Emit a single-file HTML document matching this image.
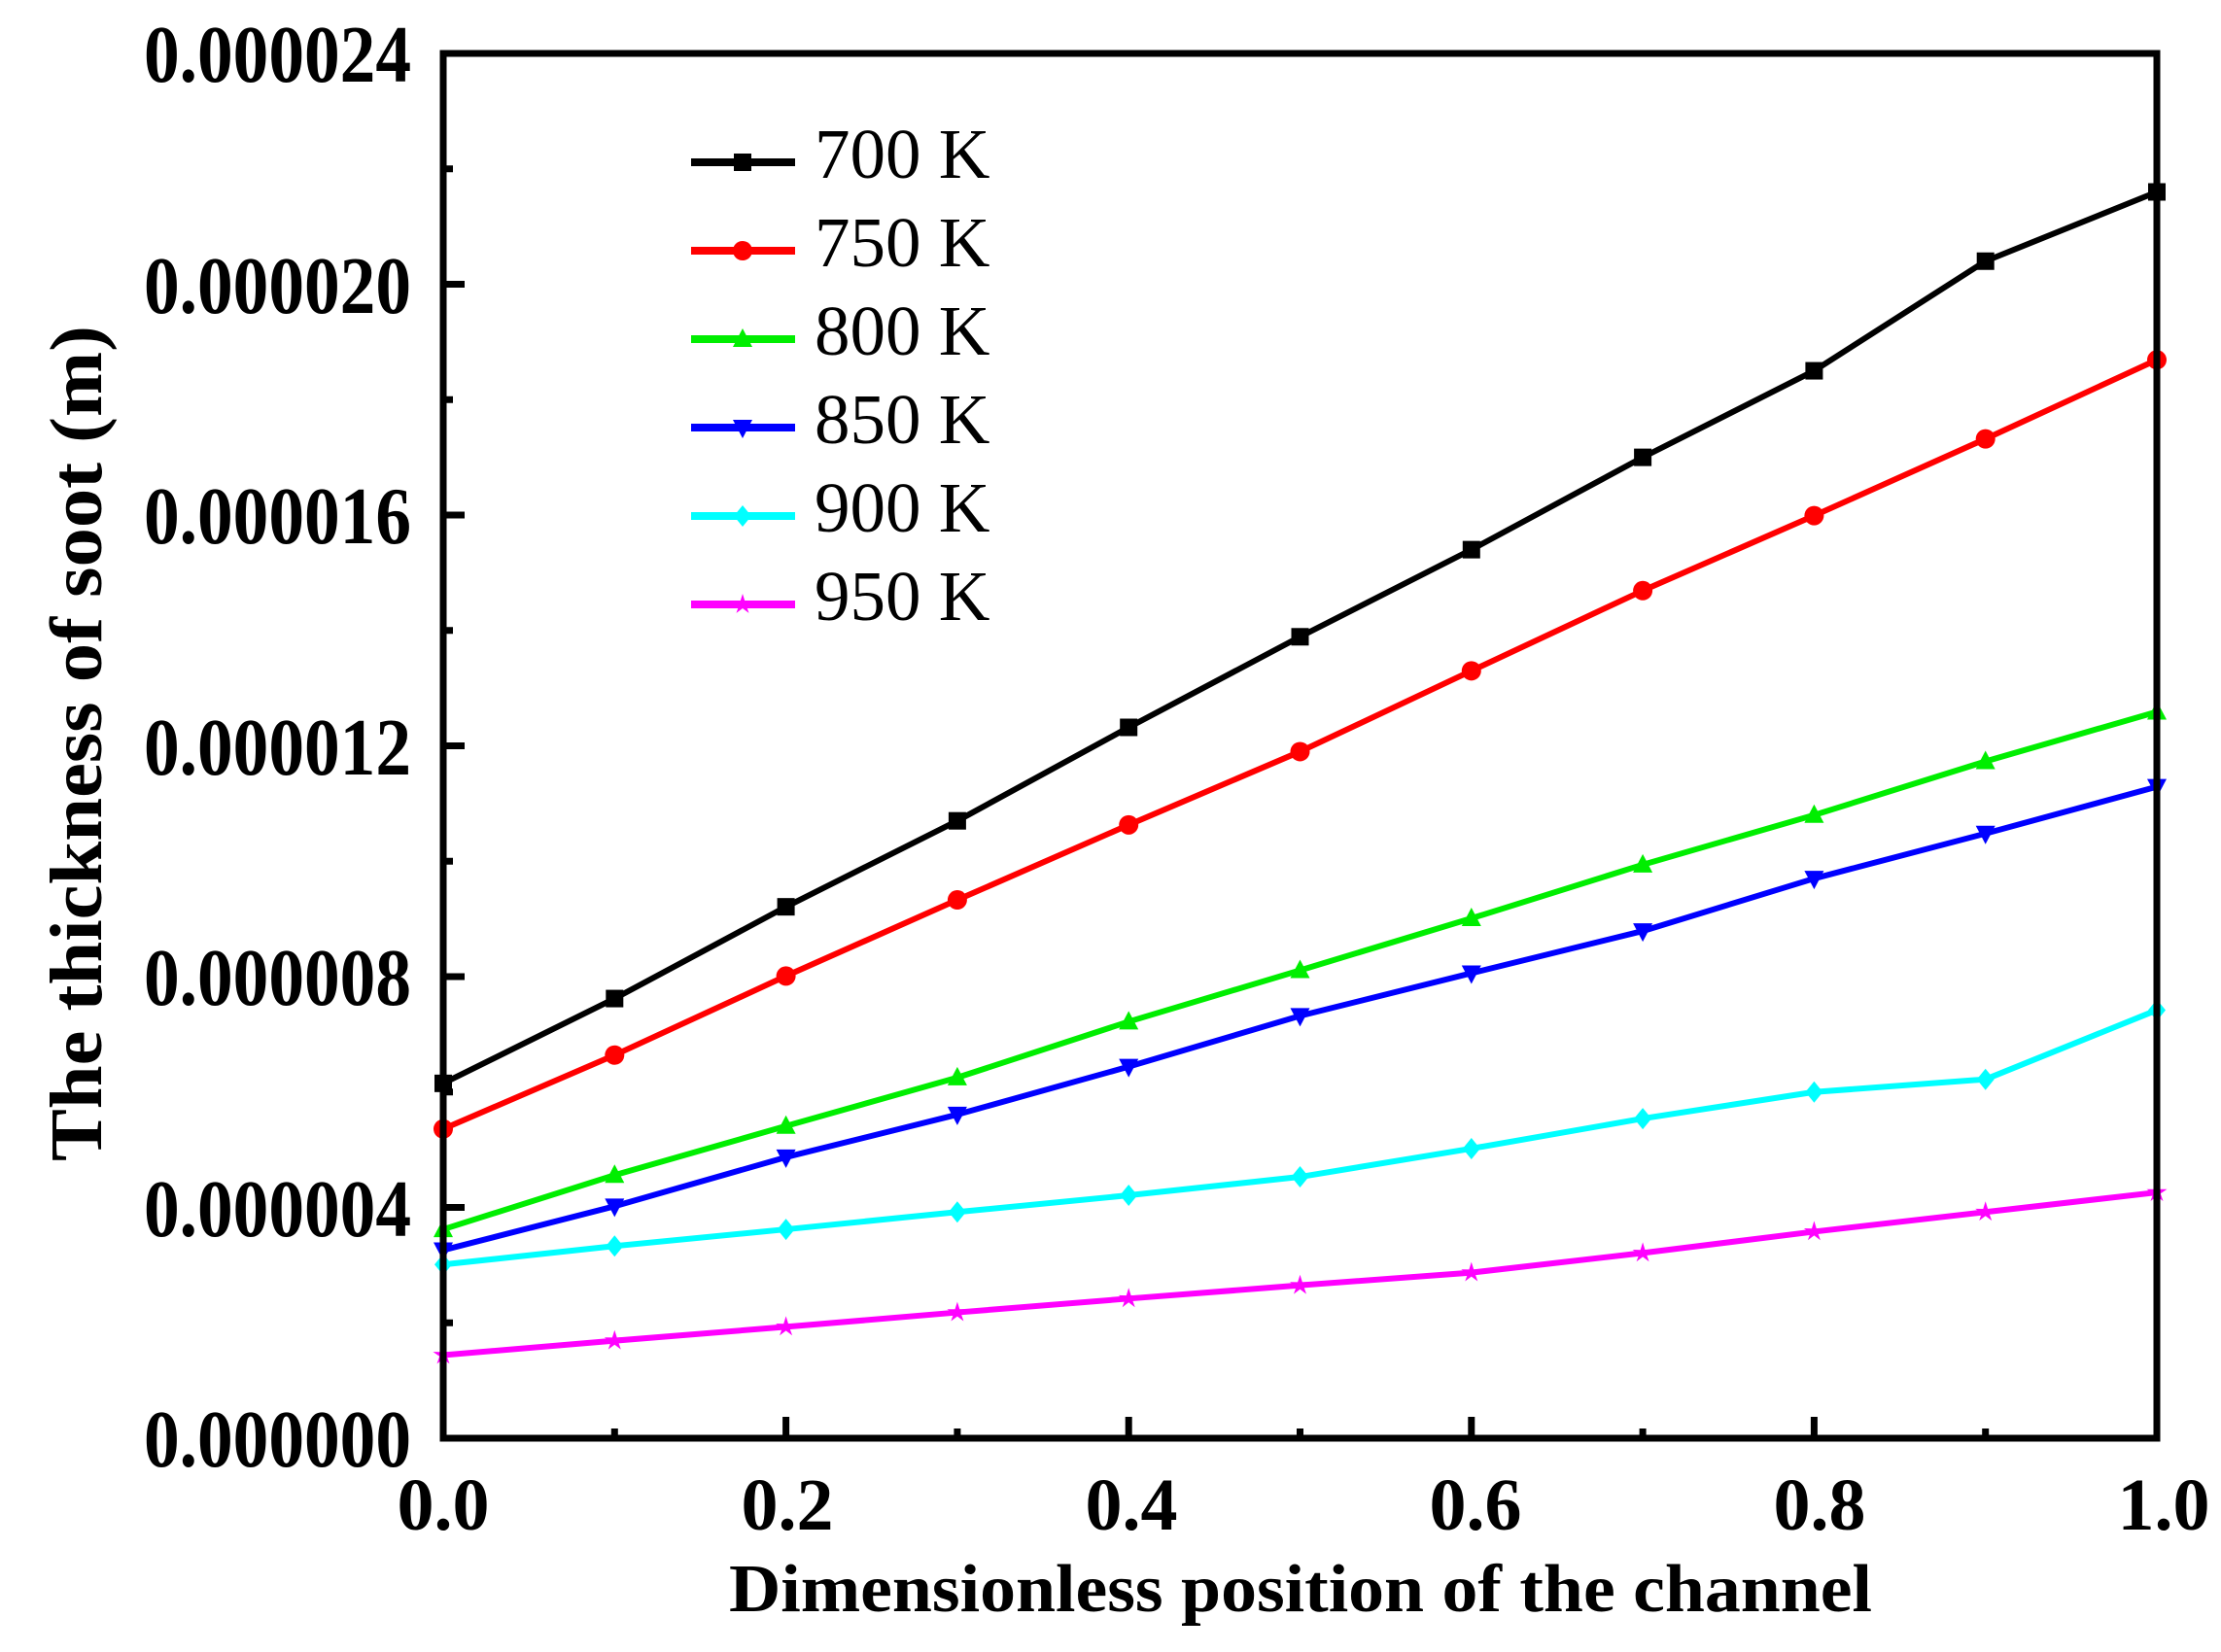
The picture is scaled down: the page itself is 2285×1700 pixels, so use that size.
<!DOCTYPE html>
<html><head><meta charset="utf-8"><style>
html,body{margin:0;padding:0;background:#fff;}
svg{display:block;}
text{font-family:"Liberation Serif",serif;}
</style></head><body>
<svg id="s" width="2285" height="1700" xmlns="http://www.w3.org/2000/svg">
<rect width="2285" height="1700" fill="#fff"/>
<g font-weight="bold" font-size="84">
<text x="148" y="84" textLength="275" lengthAdjust="spacingAndGlyphs">0.000024</text>
<text x="148" y="322" textLength="275" lengthAdjust="spacingAndGlyphs">0.000020</text>
<text x="148" y="559" textLength="275" lengthAdjust="spacingAndGlyphs">0.000016</text>
<text x="148" y="797" textLength="275" lengthAdjust="spacingAndGlyphs">0.000012</text>
<text x="148" y="1034" textLength="275" lengthAdjust="spacingAndGlyphs">0.000008</text>
<text x="148" y="1272" textLength="275" lengthAdjust="spacingAndGlyphs">0.000004</text>
<text x="148" y="1509" textLength="275" lengthAdjust="spacingAndGlyphs">0.000000</text>
</g>
<g font-weight="bold" font-size="76" text-anchor="middle">
<text x="456" y="1574">0.0</text>
<text x="810" y="1574">0.2</text>
<text x="1164" y="1574">0.4</text>
<text x="1518" y="1574">0.6</text>
<text x="1872" y="1574">0.8</text>
<text x="2226" y="1574">1.0</text>
</g>
<text x="750" y="1658" font-weight="bold" font-size="70" textLength="1176" lengthAdjust="spacingAndGlyphs">Dimensionless position of the channel</text>
<text transform="translate(104,1195) rotate(-90)" font-weight="bold" font-size="76" textLength="860" lengthAdjust="spacingAndGlyphs">The thickness of soot (m)</text>
<g id="plot"></g>
<g font-size="73">
<text x="838" y="183">700 K</text>
<text x="838" y="274">750 K</text>
<text x="838" y="365">800 K</text>
<text x="838" y="456">850 K</text>
<text x="838" y="547">900 K</text>
<text x="838" y="638">950 K</text>
</g>
</svg>
<script>
const L=456,R=2219,T=55,B=1480;
const g=document.getElementById('plot');
const px=x=>L+x*(R-L), py=v=>B-v*(B-T)/24;
let h='';
const data=[
["#000","sq",[6.15,7.62,9.21,10.7,12.32,13.89,15.4,17.0,18.5,20.4,21.6]],
["#f00","ci",[5.36,6.64,8.01,9.33,10.63,11.9,13.3,14.69,15.99,17.32,18.69]],
["#00ee00","tu",[3.62,4.56,5.41,6.25,7.22,8.11,9.01,9.94,10.8,11.73,12.59]],
["#00f","td",[3.26,4.02,4.87,5.61,6.44,7.32,8.06,8.79,9.7,10.48,11.29]],
["#0ff","di",[3.01,3.33,3.62,3.92,4.21,4.53,5.02,5.54,6.0,6.22,7.42]],
["#f0f","st",[1.44,1.69,1.93,2.18,2.42,2.65,2.87,3.21,3.58,3.92,4.26]]];
function mk(t,x,y,c){
 if(t=='sq')return `<rect x="${x-9}" y="${y-9}" width="18" height="18" fill="${c}"/>`;
 if(t=='ci')return `<circle cx="${x}" cy="${y}" r="10" fill="${c}"/>`;
 if(t=='tu')return `<polygon points="${x},${y-11} ${x-10},${y+8} ${x+10},${y+8}" fill="${c}"/>`;
 if(t=='td')return `<polygon points="${x},${y+11} ${x-10},${y-8} ${x+10},${y-8}" fill="${c}"/>`;
 if(t=='di')return `<polygon points="${x},${y-11} ${x+9},${y} ${x},${y+11} ${x-9},${y}" fill="${c}"/>`;
 let p=[];for(let i=0;i<10;i++){const r=i%2?4:11,a=-Math.PI/2+i*Math.PI/5;p.push((x+r*Math.cos(a)).toFixed(1)+','+(y+r*Math.sin(a)).toFixed(1));}
 return `<polygon points="${p.join(' ')}" fill="${c}"/>`;
}
data.forEach(([c,t,v],k)=>{
 const pts=v.map((y,i)=>[px(i/10),py(y)]);
 h+=`<polyline points="${pts.map(p=>p.join(',')).join(' ')}" fill="none" stroke="${c}" stroke-width="6" stroke-linejoin="round"/>`;
 pts.forEach(p=>h+=mk(t,p[0],p[1],c));
 const ly=167+k*91;
 h+=`<line x1="711" y1="${ly}" x2="818" y2="${ly}" stroke="${c}" stroke-width="8"/>`+mk(t,764,ly,c);
});
for(let i=0;i<=10;i++){const x=px(i/10),len=i%2?10:22;h+=`<line x1="${x}" y1="${B}" x2="${x}" y2="${B-len}" stroke="#000" stroke-width="7"/>`;}
for(let i=0;i<=12;i++){const y=py(i*2),len=i%2?10:22;h+=`<line x1="${L}" y1="${y}" x2="${L+len}" y2="${y}" stroke="#000" stroke-width="7"/>`;}
h+=`<rect x="${L}" y="${T}" width="${R-L}" height="${B-T}" fill="none" stroke="#000" stroke-width="7"/>`;
g.innerHTML=h;
</script>
</body></html>
